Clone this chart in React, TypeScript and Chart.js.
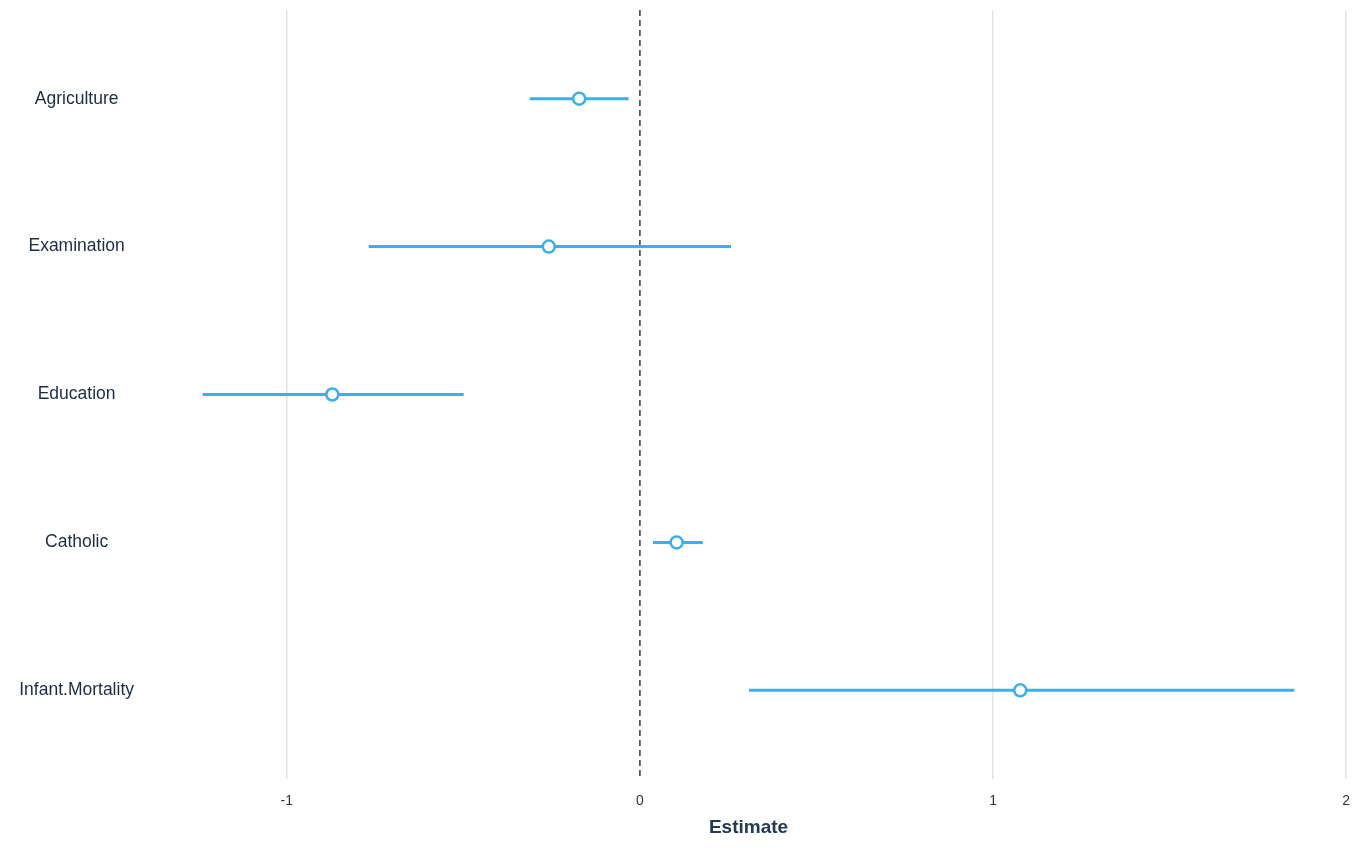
import React, { useEffect, useRef } from 'react';
import { Chart, registerables } from 'chart.js';

Chart.register(...registerables);

// coefficient estimates with 95% intervals
const terms = ['Agriculture', 'Examination', 'Education', 'Catholic', 'Infant.Mortality'];
const estimates = [-0.172, -0.258, -0.871, 0.104, 1.077];
const lower = [-0.312, -0.768, -1.238, 0.037, 0.309];
const upper = [-0.032, 0.258, -0.499, 0.178, 1.853];
const xTicks = [-1, 0, 1, 2];

const BLUE = '#3aafe9';
const FONT = "'Liberation Sans', Arial, Helvetica, sans-serif";

const App: React.FC = () => {
    const chartRef = useRef<HTMLCanvasElement>(null);
    const chartInstanceRef = useRef<Chart | null>(null);

    useEffect(() => {
        if (!chartRef.current) return;
        const ctx = chartRef.current.getContext('2d');
        if (!ctx) return;

        const intervalSets = terms.map((t, i) => ({
            type: 'line' as const,
            label: t,
            data: [{ x: lower[i], y: i }, { x: upper[i], y: i }],
            borderColor: BLUE,
            borderWidth: 3,
            pointRadius: 0,
            order: 1
        }));

        chartInstanceRef.current = new Chart(ctx, {
            type: 'scatter',
            data: {
                datasets: [
                    {
                        type: 'scatter',
                        label: 'Estimate',
                        data: estimates.map((v, i) => ({ x: v, y: i })),
                        pointRadius: 6,
                        pointBorderWidth: 2.5,
                        pointBackgroundColor: '#ffffff',
                        pointBorderColor: BLUE,
                        order: 0
                    },
                    ...intervalSets,
                    {
                        type: 'line',
                        label: 'zero',
                        data: [{ x: 0, y: -0.6 }, { x: 0, y: 4.6 }],
                        borderColor: '#3a3a3a',
                        borderWidth: 1.5,
                        borderDash: [6, 4],
                        pointRadius: 0,
                        order: 2
                    }
                ] as any
            },
            options: {
                animation: false,
                responsive: true,
                maintainAspectRatio: false,
                layout: { padding: { top: 10, right: 9, left: 0, bottom: 0 } },
                scales: {
                    x: {
                        type: 'linear',
                        min: -1.393,
                        max: 2.008,
                        afterBuildTicks: (scale) => {
                            scale.ticks = xTicks.map(v => ({ value: v }));
                        },
                        afterFit: (scale: any) => {
                            scale.height = 70;
                            scale.paddingLeft = 0;
                            scale.paddingRight = 0;
                        },
                        grid: {
                            drawTicks: false,
                            lineWidth: 1.5,
                            color: (c) => (c.tick && c.tick.value === 0 ? 'rgba(0,0,0,0)' : '#e3e3e3')
                        },
                        border: { display: false },
                        ticks: {
                            padding: 14,
                            color: '#333333',
                            font: { family: FONT, size: 14 }
                        },
                        title: {
                            display: true,
                            text: 'Estimate',
                            color: '#233a52',
                            font: { family: FONT, size: 19, weight: 'bold' },
                            padding: { top: 4, bottom: 10 }
                        }
                    },
                    y: {
                        type: 'linear',
                        reverse: true,
                        min: -0.6,
                        max: 4.6,
                        afterBuildTicks: (scale) => {
                            scale.ticks = terms.map((_, i) => ({ value: i }));
                        },
                        afterFit: (scale: any) => {
                            scale.width = 148;
                            scale.paddingTop = 0;
                            scale.paddingBottom = 0;
                        },
                        grid: { display: false, drawTicks: false },
                        border: { display: false },
                        ticks: {
                            padding: 14,
                            crossAlign: 'center',
                            color: '#1b2d42',
                            font: { family: FONT, size: 17.5 },
                            callback: (v) => terms[Number(v)] ?? ''
                        }
                    }
                },
                plugins: {
                    legend: { display: false },
                    tooltip: { enabled: false }
                }
            }
        });

        return () => {
            if (chartInstanceRef.current) {
                chartInstanceRef.current.destroy();
                chartInstanceRef.current = null;
            }
        };
    }, []);

    return (
        <div style={{ position: 'fixed', left: 0, top: 0, width: 1358, height: 849, background: '#ffffff' }}>
            <canvas ref={chartRef}></canvas>
        </div>
    );
};

export default App;
